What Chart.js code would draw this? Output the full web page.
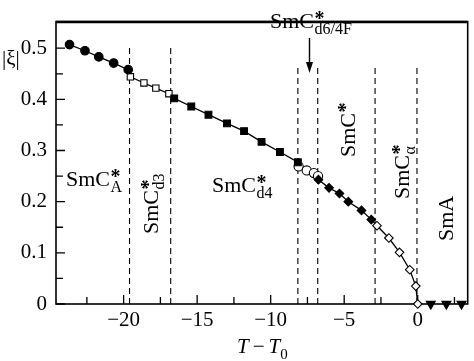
<!DOCTYPE html>
<html>
<head>
<meta charset="utf-8">
<script src="https://cdn.jsdelivr.net/npm/chart.js@4.4.0/dist/chart.umd.min.js"></script>
<style>
  html, body { margin: 0; padding: 0; background: #fff; }
  #wrap { width: 474px; height: 361px; }
</style>
</head>
<body>
<div id="wrap"><canvas id="chart" width="474" height="361"></canvas></div>
<script>
// valeurs, par phase
const smcaT = [-23.68, -22.63, -21.69, -20.68, -19.69];
const smcaXi = [0.507, 0.495, 0.483, 0.471, 0.458];

const d3T = [-19.54, -18.62, -17.81, -16.92];
const d3Xi = [0.444, 0.432, 0.422, 0.411];

const d4T = [-16.56, -15.40, -14.23, -12.97, -11.81, -10.62, -9.37, -8.15];
const d4Xi = [0.402, 0.386, 0.370, 0.353, 0.338, 0.317, 0.297, 0.277];

const d64T = [-8.10, -7.55, -7.06, -6.78];
const d64Xi = [0.269, 0.261, 0.256, 0.250];

const smcT = [-6.75, -6.03, -5.32, -4.72, -3.82, -3.16];
const smcXi = [0.243, 0.227, 0.216, 0.200, 0.183, 0.165];

const alphaT = [-2.77, -1.96, -1.24, -0.54, -0.13, 0];
const alphaXi = [0.153, 0.129, 0.101, 0.067, 0.035, 0];

const smaT = [0.89, 1.95, 2.98];
const smaXi = [0, 0, 0];

// frontieres de phase (lignes pointillees)
const boundT = [-19.6, -16.8, -8.15, -6.8, -2.9, -0.05];
const boundTop = [0.503, 0.503, 0.463, 0.463, 0.463, 0.463];

// graduations
const xMajor = [-20, -15, -10, -5, 0];
const xMinor = [-22.5, -17.5, -12.5, -7.5, -2.5, 2.5];
const yMajor = [0, 0.1, 0.2, 0.3, 0.4, 0.5];
const yMinor = [0.05, 0.15, 0.25, 0.35, 0.45];

const SERIF = '"Liberation Serif", "DejaVu Serif", serif';

function pts(ts, vals) {
    return ts.map((t, i) => ({ x: t, y: vals[i] }));
}

function markers(ts, vals, style, filled, radius, rotation) {
    return {
        type: 'scatter',
        data: pts(ts, vals),
        showLine: false,
        pointStyle: style,
        pointRadius: radius,
        pointRotation: rotation || 0,
        pointBackgroundColor: filled ? '#000' : '#fff',
        pointBorderColor: '#000',
        pointBorderWidth: 1.1,
        clip: false
    };
}

const datasets = [
    markers(smcaT, smcaXi, 'circle', true, 4.3),
    markers(d4T, d4Xi, 'rect', true, 4.8),
    markers(smcT, smcXi, 'rectRot', true, 4.3),
    markers(smaT, smaXi, 'triangle', true, 5.2, 180),
    markers(d3T, d3Xi, 'rect', false, 4.5),
    markers(d64T, d64Xi, 'circle', false, 4.6),
    markers(alphaT, alphaXi, 'rectRot', false, 4.3),
    {
        // courbe qui relie tous les points
        type: 'line',
        data: pts(
            [].concat(smcaT, d3T, d4T, d64T, smcT, alphaT),
            [].concat(smcaXi, d3Xi, d4Xi, d64Xi, smcXi, alphaXi)
        ),
        borderColor: '#000',
        borderWidth: 1.3,
        pointRadius: 0,
        tension: 0,
        clip: false
    }
];

boundT.forEach((t, i) => {
    datasets.push({
        type: 'line',
        data: [{ x: t, y: 0 }, { x: t, y: boundTop[i] }],
        borderColor: '#000',
        borderWidth: 1.1,
        borderDash: [6, 4],
        pointRadius: 0,
        clip: false
    });
});

function fmt(v) {
    if (v === 0) return '0';
    return (v < 0 ? '\u2212' : '') + Math.abs(v);
}

// etiquette "SmC*" avec indice
function phaseLabel(ctx, x, y, sub, rotate) {
    ctx.save();
    ctx.translate(x, y);
    if (rotate) ctx.rotate(-Math.PI / 2);
    ctx.fillStyle = '#000';
    ctx.textBaseline = 'alphabetic';
    ctx.textAlign = 'left';
    ctx.font = '22px ' + SERIF;
    ctx.fillText('SmC', 0, 0);
    const w = ctx.measureText('SmC').width;
    ctx.font = 'bold 20px ' + SERIF;
    ctx.fillText('*', w + 0.5, -3);
    if (sub) {
        ctx.font = '16px ' + SERIF;
        ctx.fillText(sub, w + 0.5, 6);
    }
    ctx.restore();
}

const decor = {
    id: 'decor',
    beforeDatasetsDraw(chart) {
        const ctx = chart.ctx;
        const a = chart.chartArea;
        const xs = chart.scales.x, ys = chart.scales.y;
        ctx.save();
        ctx.strokeStyle = '#000';
        ctx.lineWidth = 1.6;
        ctx.strokeRect(a.left, a.top, a.right - a.left, a.bottom - a.top);
        ctx.lineWidth = 2.5;
        ctx.beginPath();
        ctx.moveTo(a.left, a.top + 0.5);
        ctx.lineTo(a.right, a.top + 0.5);
        ctx.stroke();
        // graduations vers l'interieur
        ctx.lineWidth = 1.3;
        ctx.beginPath();
        xMajor.forEach(v => {
            const px = xs.getPixelForValue(v);
            ctx.moveTo(px, a.bottom); ctx.lineTo(px, a.bottom - 9);
        });
        xMinor.forEach(v => {
            const px = xs.getPixelForValue(v);
            ctx.moveTo(px, a.bottom); ctx.lineTo(px, a.bottom - 7);
        });
        yMajor.forEach(v => {
            const py = ys.getPixelForValue(v);
            ctx.moveTo(a.left, py); ctx.lineTo(a.left + 9, py);
        });
        yMinor.forEach(v => {
            const py = ys.getPixelForValue(v);
            ctx.moveTo(a.left, py); ctx.lineTo(a.left + 7, py);
        });
        ctx.stroke();
        ctx.restore();
    },
    afterDraw(chart) {
        const ctx = chart.ctx;
        ctx.save();
        ctx.fillStyle = '#000';
        ctx.strokeStyle = '#000';

        phaseLabel(ctx, 66, 186, 'A', false);
        phaseLabel(ctx, 158, 234, 'd3', true);
        phaseLabel(ctx, 212, 192, 'd4', false);
        phaseLabel(ctx, 270, 28, 'd6/4F', false);
        phaseLabel(ctx, 355, 157, '', true);
        phaseLabel(ctx, 409, 199, '\u03b1', true);

        ctx.save();
        ctx.translate(453, 241);
        ctx.rotate(-Math.PI / 2);
        ctx.font = '22px ' + SERIF;
        ctx.fillText('SmA', 0, 0);
        ctx.restore();

        // fleche vers SmC*d6/4F
        ctx.lineWidth = 1.4;
        ctx.beginPath();
        ctx.moveTo(309.5, 38);
        ctx.lineTo(309.5, 66);
        ctx.stroke();
        ctx.beginPath();
        ctx.moveTo(306, 62);
        ctx.lineTo(313, 62);
        ctx.lineTo(309.5, 73);
        ctx.closePath();
        ctx.fill();

        // titres des axes
        ctx.font = '21px ' + SERIF;
        ctx.fillText('|\u03be|', 2, 65);

        let x = 237;
        ctx.font = 'italic 21px ' + SERIF;
        ctx.fillText('T', x, 353);
        x += ctx.measureText('T').width + 4;
        ctx.font = '21px ' + SERIF;
        ctx.fillText('\u2212', x, 353);
        x += ctx.measureText('\u2212').width + 4;
        ctx.font = 'italic 21px ' + SERIF;
        ctx.fillText('T', x, 353);
        x += ctx.measureText('T').width;
        ctx.font = '15px ' + SERIF;
        ctx.fillText('0', x, 359);
        ctx.restore();
    }
};

new Chart(document.getElementById('chart'), {
    type: 'scatter',
    data: { datasets: datasets },
    options: {
        responsive: false,
        animation: false,
        layout: { padding: { top: 1, right: 2, left: 0, bottom: 0 } },
        plugins: { legend: { display: false }, tooltip: { enabled: false } },
        scales: {
            x: {
                type: 'linear',
                min: -24.6,
                max: 3.4,
                afterBuildTicks: s => { s.ticks = xMajor.map(v => ({ value: v })); },
                afterFit: s => { s.height = 57; },
                grid: { display: false, drawTicks: false },
                border: { display: false },
                ticks: {
                    color: '#000',
                    font: { family: SERIF, size: 21 },
                    padding: 4,
                    maxRotation: 0,
                    autoSkip: false,
                    callback: v => fmt(v)
                }
            },
            y: {
                type: 'linear',
                min: 0,
                max: 0.552,
                afterBuildTicks: s => { s.ticks = yMajor.map(v => ({ value: v })); },
                afterFit: s => { s.width = 56; },
                grid: { display: false, drawTicks: false },
                border: { display: false },
                ticks: {
                    color: '#000',
                    font: { family: SERIF, size: 21 },
                    padding: 9,
                    autoSkip: false,
                    callback: v => fmt(v)
                }
            }
        }
    },
    plugins: [decor]
});
</script>
</body>
</html>
